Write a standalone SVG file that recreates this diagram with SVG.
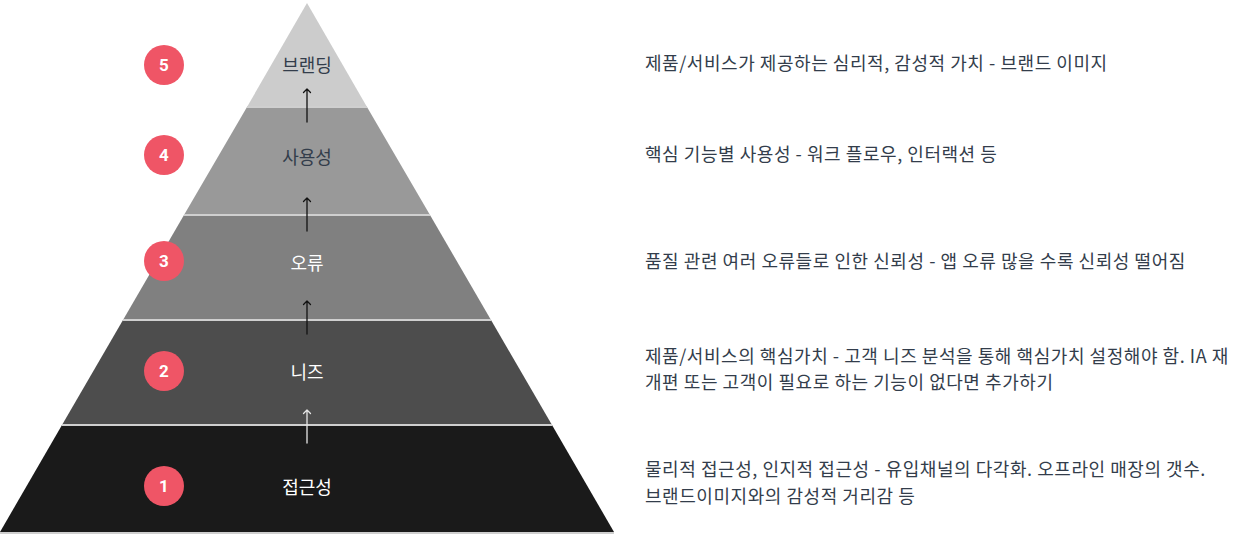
<svg xmlns="http://www.w3.org/2000/svg" width="1245" height="535" viewBox="0 0 1245 535">
<style>
.sep{stroke:#cfcfcf;stroke-width:2;fill:none}
.lbl{font-family:"Noto Sans CJK KR","Noto Sans",sans-serif;font-size:18px;text-anchor:middle;dominant-baseline:central}
.dark{fill:#333d4b}
.light{fill:#ffffff}
.badge circle{fill:#ef5566}
.badge text{font-family:Roboto,"Liberation Sans",sans-serif;font-weight:bold;font-size:17px;fill:#fff;text-anchor:middle;dominant-baseline:central}
.desc{font-family:"Noto Sans CJK KR","Noto Sans",sans-serif;font-size:18px;letter-spacing:0.55px;fill:#333d4b}
.arr{stroke-width:1.3;fill:none;stroke-linecap:round;stroke-linejoin:round}
</style>
<rect width="1245" height="535" fill="#ffffff"/>
<g id="band5">
<polygon points="307,3 367,107 247,107" fill="#cccccc"/>
<text class="lbl dark" x="307" y="64">브랜딩</text>
</g>
<g id="band4">
<polygon points="247,107 367,107 430,215 184,215" fill="#999999"/>
<text class="lbl dark" x="307" y="156">사용성</text>
</g>
<g id="band3">
<polygon points="184,215 430,215 491,320 123,320" fill="#808080"/>
<text class="lbl light" x="307" y="262">오류</text>
</g>
<g id="band2">
<polygon points="123,320 491,320 552,425 62,425" fill="#4d4d4d"/>
<text class="lbl light" x="307" y="371">니즈</text>
</g>
<g id="band1">
<polygon points="62,425 552,425 614,532 0,532" fill="#1a1a1a"/>
<text class="lbl light" x="307" y="486">접근성</text>
</g>
<g id="separators">
<line class="sep" x1="247" y1="107" x2="367" y2="107"/>
<line class="sep" x1="184" y1="215" x2="430" y2="215"/>
<line class="sep" x1="123" y1="320" x2="491" y2="320"/>
<line class="sep" x1="62" y1="425" x2="552" y2="425"/>
<line class="sep" x1="0" y1="533" x2="614" y2="533"/>
</g>
<g id="connectors">
<path class="arr" stroke="#111" d="M307,122 V89 M303.5,92.5 L307,89 L310.5,92.5"/>
<path class="arr" stroke="#111" d="M307,231 V198 M303.5,201.5 L307,198 L310.5,201.5"/>
<path class="arr" stroke="#111" d="M307,334 V301 M303.5,304.5 L307,301 L310.5,304.5"/>
<path class="arr" stroke="#e6e6e6" d="M307,443 V410 M303.5,413.5 L307,410 L310.5,413.5"/>
</g>
<g id="badge5" class="badge"><circle cx="164" cy="65" r="20"/><text x="164" y="65">5</text></g>
<g id="badge4" class="badge"><circle cx="164" cy="155" r="20"/><text x="164" y="155">4</text></g>
<g id="badge3" class="badge"><circle cx="164" cy="261" r="20"/><text x="164" y="261">3</text></g>
<g id="badge2" class="badge"><circle cx="164" cy="371" r="20"/><text x="164" y="371">2</text></g>
<g id="badge1" class="badge"><circle cx="164" cy="486" r="20"/><text x="164" y="486">1</text></g>
<g id="descriptions">
<text class="desc" x="645" y="70">제품/서비스가 제공하는 심리적, 감성적 가치 - 브랜드 이미지</text>
<text class="desc" x="645" y="161">핵심 기능별 사용성 - 워크 플로우, 인터랙션 등</text>
<text class="desc" x="645" y="268">품질 관련 여러 오류들로 인한 신뢰성 - 앱 오류 많을 수록 신뢰성 떨어짐</text>
<text class="desc" x="645" y="363">제품/서비스의 핵심가치 - 고객 니즈 분석을 통해 핵심가치 설정해야 함. IA 재</text>
<text class="desc" x="645" y="389">개편 또는 고객이 필요로 하는 기능이 없다면 추가하기</text>
<text class="desc" x="645" y="476">물리적 접근성, 인지적 접근성 - 유입채널의 다각화. 오프라인 매장의 갯수.</text>
<text class="desc" x="645" y="503">브랜드이미지와의 감성적 거리감 등</text>
</g>
</svg>
